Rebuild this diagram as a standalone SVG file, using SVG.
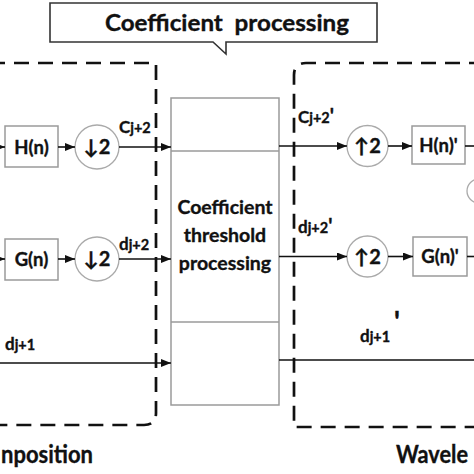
<svg xmlns="http://www.w3.org/2000/svg" width="474" height="474" viewBox="0 0 474 474">
<defs>
<marker id="ah" markerWidth="10" markerHeight="8" refX="10" refY="4" orient="auto" markerUnits="userSpaceOnUse">
<path d="M0,0 L10,4 L0,8 Z" fill="#111"/>
</marker>
<style>
.t{font-family:Lato,"Open Sans","DejaVu Sans",sans-serif;font-weight:bold;fill:#111;stroke:#111;stroke-width:0.35}
.box{fill:#fff;stroke:#9a9a9a;stroke-width:1.5}
.circ{fill:#fff;stroke:#aaa;stroke-width:1.3}
.ln{fill:none;stroke:#111;stroke-width:1.6}
.dash{fill:none;stroke:#111;stroke-width:2.7;stroke-dasharray:15 9}
</style>
</defs>
<rect width="474" height="474" fill="#fff"/>

<g id="callout">
<path d="M50,3 H377 V42 H226 V54 L213,42 H50 Z" fill="#fff" stroke="#333" stroke-width="1.6"/>
<text class="t" x="105" y="31" font-size="23" textLength="244" lengthAdjust="spacingAndGlyphs" xml:space="preserve">Coefficient  processing</text>
</g>

<g id="decomposition-frame">
<path class="dash" d="M-10,63 H156 V413 Q156,425 144,425 H-10"/>
<text class="t" x="1" y="463" font-size="24" textLength="92" lengthAdjust="spacingAndGlyphs">nposition</text>
</g>

<g id="reconstruction-frame">
<path class="dash" d="M484,63 H306 Q294,63 294,75 V427 H484"/>
<text class="t" x="396" y="463" font-size="24" textLength="72" lengthAdjust="spacingAndGlyphs">Wavele</text>
</g>

<g id="threshold">
<rect class="box" x="171" y="98" width="108" height="307"/>
<line x1="171" y1="151" x2="279" y2="151" stroke="#9a9a9a" stroke-width="1.3"/>
<line x1="171" y1="322" x2="279" y2="322" stroke="#9a9a9a" stroke-width="1.3"/>
<text class="t" font-size="19.5" text-anchor="middle"><tspan x="225" y="214">Coefficient</tspan><tspan x="225" y="242">threshold</tspan><tspan x="225" y="270">processing</tspan></text>
</g>

<g id="H">
<rect class="box" x="5" y="126" width="53" height="41"/>
<text class="t" x="31.5" y="154" font-size="18.5" text-anchor="middle">H(n)</text>
</g>
<g id="down1">
<circle class="circ" cx="97" cy="147" r="22"/>
<text class="t" x="97" y="154" font-size="20" text-anchor="middle">↓2</text>
</g>
<g id="G">
<rect class="box" x="5" y="239" width="53" height="41"/>
<text class="t" x="31.5" y="266" font-size="18.5" text-anchor="middle">G(n)</text>
</g>
<g id="down2">
<circle class="circ" cx="97" cy="259" r="22"/>
<text class="t" x="97" y="266" font-size="20" text-anchor="middle">↓2</text>
</g>

<g id="up1">
<circle class="circ" cx="367.5" cy="146" r="20.5"/>
<text class="t" x="367.5" y="153" font-size="20" text-anchor="middle">↑2</text>
</g>
<g id="Hp">
<rect class="box" x="412" y="126" width="53" height="38"/>
<text class="t" x="438.5" y="152" font-size="18.5" text-anchor="middle">H(n)'</text>
</g>
<g id="up2">
<circle class="circ" cx="367.5" cy="256.5" r="20.5"/>
<text class="t" x="367.5" y="263.5" font-size="20" text-anchor="middle">↑2</text>
</g>
<g id="Gp">
<rect class="box" x="413" y="237" width="54" height="39"/>
<text class="t" x="440" y="263" font-size="18.5" text-anchor="middle">G(n)'</text>
</g>
<g id="sum">
<circle class="circ" cx="479" cy="191" r="12"/>
</g>

<g id="connectors">
<line class="ln" x1="-5" y1="147" x2="5" y2="147" marker-end="url(#ah)"/>
<line class="ln" x1="58" y1="147" x2="75" y2="147" marker-end="url(#ah)"/>
<line class="ln" x1="119" y1="147" x2="171" y2="147" marker-end="url(#ah)"/>
<line class="ln" x1="-5" y1="259" x2="5" y2="259" marker-end="url(#ah)"/>
<line class="ln" x1="58" y1="259" x2="75" y2="259" marker-end="url(#ah)"/>
<line class="ln" x1="119" y1="259" x2="171" y2="259" marker-end="url(#ah)"/>
<line class="ln" x1="-5" y1="363" x2="171" y2="363" marker-end="url(#ah)"/>
<line class="ln" x1="279" y1="146" x2="347" y2="146" marker-end="url(#ah)"/>
<line class="ln" x1="388" y1="146" x2="412" y2="146" marker-end="url(#ah)"/>
<line class="ln" x1="465" y1="146" x2="480" y2="146"/>
<line class="ln" x1="279" y1="256.5" x2="347" y2="256.5" marker-end="url(#ah)"/>
<line class="ln" x1="388" y1="256.5" x2="413" y2="256.5" marker-end="url(#ah)"/>
<line class="ln" x1="467" y1="256.5" x2="480" y2="256.5"/>
<line class="ln" x1="279" y1="360" x2="480" y2="360"/>
</g>

<g id="labels">
<text class="t" x="119" y="133" font-size="17">C<tspan font-size="14.5">j+2</tspan></text>
<text class="t" x="119" y="250" font-size="17">d<tspan font-size="14.5">j+2</tspan></text>
<text class="t" x="5" y="350" font-size="17">d<tspan font-size="14.5">j+1</tspan></text>
<text class="t" x="298" y="123" font-size="17">C<tspan font-size="14.5">j+2</tspan><tspan font-size="20">'</tspan></text>
<text class="t" x="298" y="233" font-size="17">d<tspan font-size="14.5">j+2</tspan><tspan font-size="20">'</tspan></text>
<text class="t" x="360" y="342" font-size="17">d<tspan font-size="14.5">j+1</tspan></text>
<text class="t" x="394" y="332" font-size="28">'</text>
</g>
</svg>
